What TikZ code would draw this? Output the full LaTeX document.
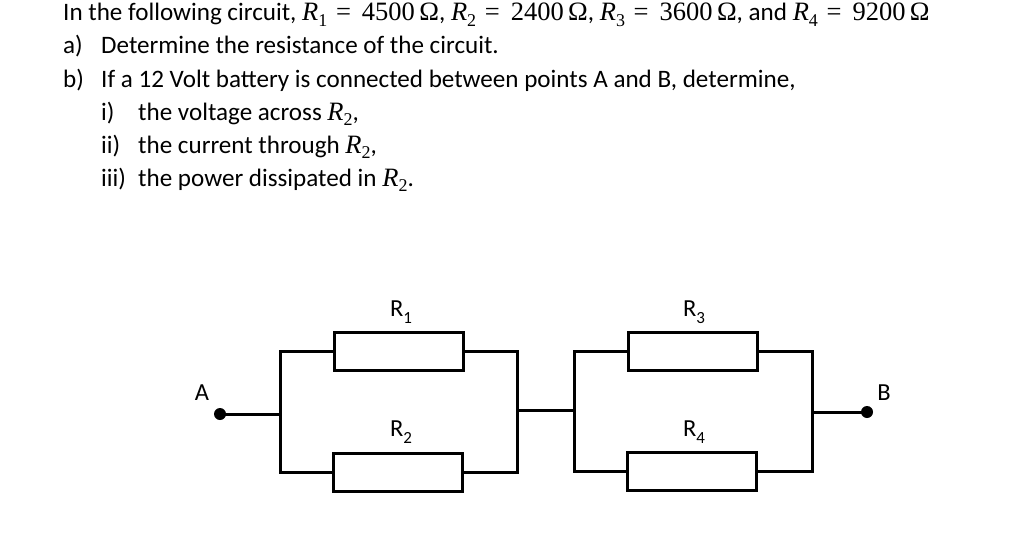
\documentclass[tikz,border=0pt]{standalone}
\usepackage{fontspec}
\setmainfont{Carlito}
\newfontfamily\mathfam{Liberation Serif}
\newcommand{\sym}[2]{{\mathfam\fontsize{26.5}{30}\selectfont\textit{R}\raisebox{-0.22em}{\fontsize{18}{18}\selectfont #2}}}
\newcommand{\lab}[2]{#1\raisebox{-0.28em}{\fontsize{17}{17}\selectfont #2}}
\newcommand{\eqn}[2]{\sym{R}{#1}\,{\mathfam\fontsize{26.5}{30}\selectfont\,=\, #2\,Ω}}
\tikzset{
	qtext/.style={anchor=base west,inner sep=0pt,font=\fontsize{25.1}{30}\selectfont},
	res/.style={draw,line width=3pt,minimum width=129pt,minimum height=38pt,inner sep=0pt},
	wire/.style={line width=3pt,line cap=rect},
	term/.style={circle,fill=black,inner sep=0pt,minimum size=12pt},
	lbl/.style={inner sep=0pt,font=\fontsize{24.5}{28}\selectfont}
}
\begin{document}
\begin{tikzpicture}[x=1pt,y=-1pt]
\useasboundingbox (0,0) rectangle (1024,543);
% question text
\node[qtext] (intro) at (63,21) {In the following circuit, \eqn{1}{4500}, \eqn{2}{2400}, \eqn{3}{3600}, and \eqn{4}{9200}};
\node[qtext] (parta) at (63,54) {a)};
\node[qtext] (texta) at (101,54) {Determine the resistance of the circuit.};
\node[qtext] (partb) at (63,87) {b)};
\node[qtext] (textb) at (101,87) {If a 12 Volt battery is connected between points A and B, determine,};
\node[qtext] (parti) at (101,120) {i)};
\node[qtext] (texti) at (138,120) {the voltage across \sym{R}{2},};
\node[qtext] (partii) at (101,153) {ii)};
\node[qtext] (textii) at (138,153) {the current through \sym{R}{2},};
\node[qtext] (partiii) at (101,186) {iii)};
\node[qtext] (textiii) at (138,186) {the power dissipated in \sym{R}{2}.};
% resistors
\node[res] (R1) at (398.5,351) {};
\node[res] (R2) at (397.5,472) {};
\node[res] (R3) at (692.5,351) {};
\node[res] (R4) at (692,471) {};
\node[lbl] (labR1) at (401,312) {\lab{R}{1}};
\node[lbl] (labR2) at (401,432) {\lab{R}{2}};
\node[lbl] (labR3) at (694,312) {\lab{R}{3}};
\node[lbl] (labR4) at (694,432) {\lab{R}{4}};
% terminals
\node[term] (A) at (220,414) {};
\node[term] (B) at (867,412) {};
\node[lbl] (labA) at (202,393) {A};
\node[lbl] (labB) at (884,393) {B};
% bus bars
\coordinate (busa) at (280,414);
\coordinate (busb) at (517,410);
\coordinate (busc) at (574,410);
\coordinate (busd) at (812,412);
\draw[wire] (R1.west) -| (busa) |- (R2.west);
\draw[wire] (R1.east) -| (busb) |- (R2.east);
\draw[wire] (R3.west) -| (busc) |- (R4.west);
\draw[wire] (R3.east) -| (busd) |- (R4.east);
\draw[wire] (A) -- (busa);
\draw[wire] (busb) -- (busc);
\draw[wire] (busd) -- (B);
\end{tikzpicture}
\end{document}
